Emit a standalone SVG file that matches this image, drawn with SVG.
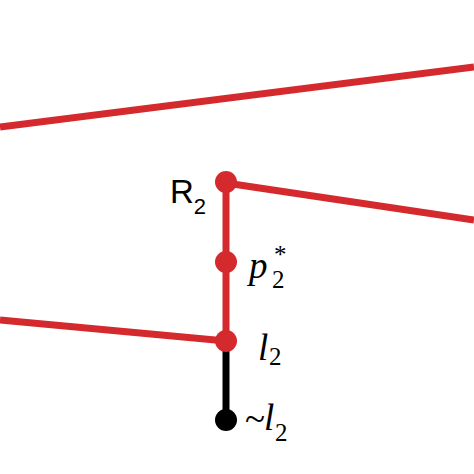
<svg xmlns="http://www.w3.org/2000/svg" width="474" height="474" viewBox="0 0 474 474">
<style>
.r{stroke:#d42a2e;stroke-width:7;fill:none}
.k{stroke:#000;stroke-width:7;fill:none}
.m{font-family:"Liberation Serif",serif;font-style:italic;font-size:37px;fill:#000}
.s{font-style:normal;font-size:25px}
.lab{font-family:"Liberation Sans",Arial,sans-serif;font-size:33px;fill:#000}
</style>
<g id="connectors">
<line class="r" x1="0" y1="127" x2="474" y2="67"/>
<line class="r" x1="226" y1="183" x2="474" y2="220"/>
<line class="r" x1="0" y1="320" x2="226" y2="341"/>
<line class="r" x1="226" y1="182" x2="226" y2="341"/>
<line class="k" x1="226" y1="341" x2="226" y2="420"/>
</g>
<g id="R2">
<circle cx="226" cy="182" r="11" fill="#d42a2e"/>
<text class="lab" x="170" y="203">R<tspan font-size="22" dy="11">2</tspan></text>
</g>
<g id="p2star">
<circle cx="226" cy="262" r="11" fill="#d42a2e"/>
<text class="m" x="249" y="278">p<tspan class="s" x="272" y="288">2</tspan><tspan class="s" x="274" y="263">*</tspan></text>
</g>
<g id="l2">
<circle cx="226" cy="341" r="11" fill="#d42a2e"/>
<text class="m" x="258" y="360">l<tspan class="s" x="269" y="365">2</tspan></text>
</g>
<g id="notl2">
<circle cx="226" cy="420" r="11" fill="#000"/>
<text class="m" x="245" y="431"><tspan style="font-style:normal">~</tspan><tspan x="264" y="430">l</tspan><tspan class="s" x="275" y="441">2</tspan></text>
</g>
</svg>
